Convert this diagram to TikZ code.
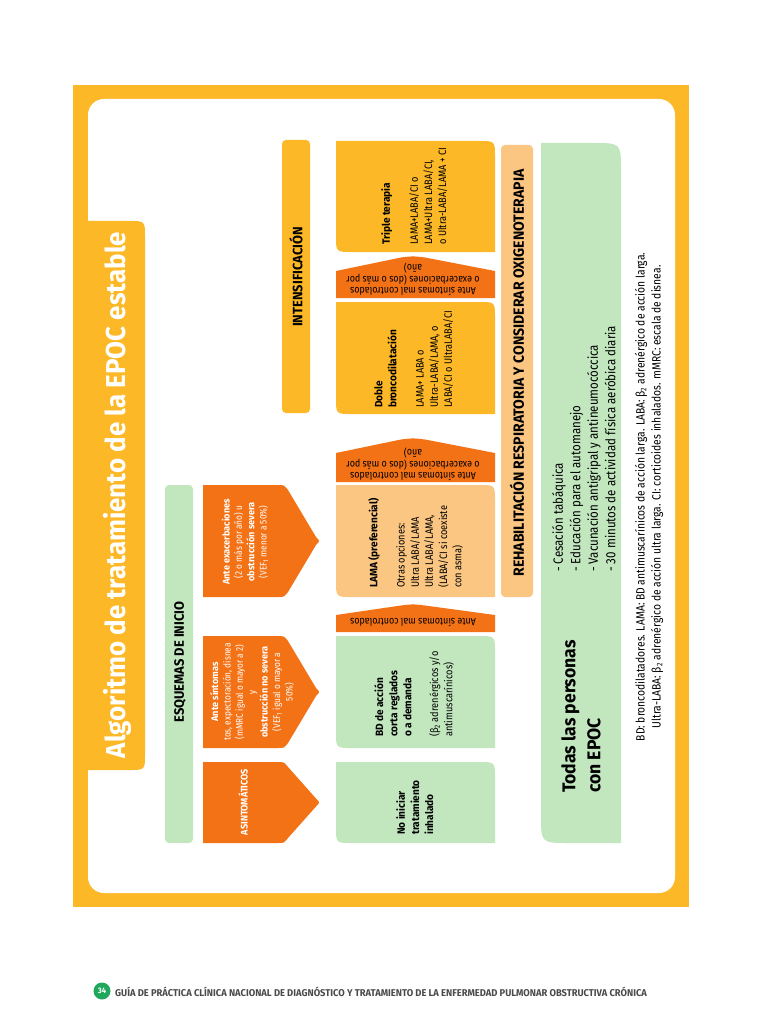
\documentclass[tikz,border=0pt]{standalone}
\usepackage{fontspec}
\setmainfont{Fira Sans}[FakeStretch=0.86,BoldFeatures={FakeStretch=0.95}]
\usetikzlibrary{positioning}
\definecolor{guideyellow}{HTML}{FDB827}
\definecolor{guideorange}{HTML}{F47216}
\definecolor{guidegreen}{HTML}{C2E7BF}
\definecolor{guidepeach}{HTML}{FBC682}
\definecolor{guidemint}{HTML}{1FA85C}
\definecolor{guidegrey}{HTML}{4A4A4A}
% box with two round corners (top right, bottom left)
\newcommand{\cornerbox}[6]{\fill[#1] (#2,#3) -- ({#4-#6},#3) .. controls (#4,#3) .. (#4,{#3+#6}) -- (#4,#5) -- ({#2+#6},#5) .. controls (#2,#5) .. (#2,{#5-#6}) -- cycle;}
% orange pentagon pointing right
\newcommand{\rightpent}[2]{\fill[guideorange] (203,#1) -- (278,#1) .. controls (284,#1) .. (288,{#1+5}) -- (316,{(#1+#2)/2-4}) .. controls (320,{(#1+#2)/2}) .. (316,{(#1+#2)/2+4}) -- (288,{#2-5}) .. controls (284,#2) .. (278,#2) -- (203,#2) -- cycle;}
% orange pentagon pointing up
\newcommand{\uppent}[3]{\fill[guideorange] (336,#3) -- (495,#3) -- (495,#2) -- (425,{#1+1.5}) .. controls (413,#1) .. (401,{#1+1.5}) -- (336,#2) -- cycle;}
\begin{document}
\begin{tikzpicture}[x=1pt,y=-1pt]
    \tikzstyle{bar}=[rounded corners=4pt]
    \tikzstyle{txt}=[inner sep=0pt, rotate=90, align=left, anchor=north west, font=\fontsize{10.7}{14.2}\selectfont]
    \tikzstyle{head}=[txt, font=\fontsize{10.6}{14.2}\selectfont\bfseries]
    \tikzstyle{pent}=[inner sep=0pt, rotate=90, align=center, text=white, font=\fontsize{9.6}{12.4}\selectfont]
    \tikzstyle{updown}=[inner sep=0pt, rotate=180, align=center, font=\fontsize{10.4}{11}\selectfont]
    \tikzstyle{barlabel}=[inner sep=0pt, rotate=90, font=\fontsize{13.6}{15}\selectfont\bfseries]

    \useasboundingbox (0,0) rectangle (768,1024);

    % frame
    \fill[guideyellow] (73,85) rectangle (689,907);
    \fill[white, rounded corners=16pt] (88,99) rectangle (675,893);
    \fill[guideyellow] (80,221) -- (129,221) .. controls (145,221) .. (145,237) -- (145,754) .. controls (145,770) .. (129,770) -- (80,770) -- cycle;
    \node[inner sep=0pt, rotate=90, text=white, font=\fontsize{27.3}{30}\selectfont\bfseries] (title) at (117,495) {Algoritmo de tratamiento de la EPOC estable};

    % header bars
    \fill[guidegreen, bar] (165,485) rectangle (193,843);
    \fill[guideyellow, bar] (282,140) rectangle (310,413);
    \fill[guidepeach, bar] (501,145) rectangle (533,597);
    \node[barlabel] (esquemas) at (180,662) {ESQUEMAS DE INICIO};
    \node[barlabel] (intens) at (296,277) {INTENSIFICACIÓN};
    \node[barlabel, font=\fontsize{14.8}{18}\selectfont\bfseries] (rehab) at (517,373) {REHABILITACIÓN RESPIRATORIA Y CONSIDERAR OXIGENOTERAPIA};

    % orange entry points
    \rightpent{485}{597}
    \rightpent{636}{748}
    \rightpent{762}{843}
    \node[pent] (exacer) at (245,542) {\textbf{Ante exacerbaciones}\\(2 o más por año) u\\\textbf{obstrucción severa}\\(VEF\textsubscript{1} menor a 50\%)};
    \node[pent] (sintomas) at (252,692) {\textbf{Ante síntomas}\\tos, expectoración, disnea\\(mMRC igual o mayor a 2)\\y\\\textbf{obstrucción no severa}\\(VEF\textsubscript{1} igual o mayor a\\50\%)};
    \node[pent] (asinto) at (243,802) {\textbf{ASINTOMÁTICOS}};

    % treatment boxes
    \cornerbox{guidegreen}{336}{762}{495}{843}{16}
    \cornerbox{guidegreen}{336}{636}{495}{748}{16}
    \cornerbox{guidepeach}{336}{485}{495}{597}{16}
    \cornerbox{guideyellow}{336}{302}{495}{414}{16}
    \cornerbox{guideyellow}{336}{141}{495}{252}{16}

    \node[head] (noinic) at (396,835) {No iniciar\\tratamiento\\inhalado};
    \node[head] (bdhead) at (374,737) {BD de acción\\corta reglados\\o a demanda};
    \node[txt] (bdbody) at (429,737) {(β\textsubscript{2} adrenérgicos y/o\\antimuscarínicos)};
    \node[head] (lamahead) at (368,588) {LAMA (preferencial)};
    \node[txt] (lamabody) at (396,588) {Otras opciones:\\Ultra LABA/LAMA\\Ultra LABA/LAMA,\\(LABA/CI si coexiste\\con asma)};
    \node[head] (doblehead) at (374,408) {Doble\\broncodilatación};
    \node[txt] (doblebody) at (416,408) {LAMA+ LABA o\\Ultra-LABA/LAMA, o\\LABA/CI o UltraLABA/CI};
    \node[head] (triplehead) at (381,245) {Triple terapia};
    \node[txt] (triplebody) at (409,245) {LAMA+LABA/CI o\\LAMA+Ultra LABA/CI,\\o Ultra-LABA/LAMA + CI};

    % up arrows
    \uppent{604}{615}{632}
    \uppent{438}{453}{482}
    \uppent{256}{271}{298}
    \node[updown] (up1) at (413,623) {Ante síntomas mal controlados};
    \node[updown] (up2) at (413,464) {Ante síntomas mal controlados\\o exacerbaciones (dos o más por\\año)};
    \node[updown] (up3) at (413,279) {Ante síntomas mal controlados\\o exacerbaciones (dos o más por\\año)};

    % all patients
    \cornerbox{guidegreen}{541}{143}{621}{843}{28}
    \node[txt, font=\fontsize{18.5}{25}\selectfont\bfseries] (todas) at (561,793) {Todas las personas\\con EPOC};
    \node[txt, font=\fontsize{13.4}{17.5}\selectfont] (medidas) at (552,572) {- Cesación tabáquica\\- Educación para el automanejo\\- Vacunación antigripal y antineumocóccica\\- 30 minutos de actividad física aeróbica diaria};

    % footnote
    \node[inner sep=0pt, rotate=90, align=center, font=\fontsize{12}{16}\selectfont] (nota) at (649,497) {BD: broncodilatadores. LAMA: BD antimuscarínicos de acción larga. LABA: β\textsubscript{2} adrenérgico de acción larga.\\Ultra-LABA: β\textsubscript{2} adrenérgico de acción ultra larga. CI: corticoides inhalados. mMRC: escala de disnea.};

    % page footer
    \node[circle, fill=guidemint, minimum size=17pt, inner sep=0pt, text=white, font=\fontsize{8}{9}\selectfont\bfseries] (page) at (102,991) {34};
    \node[inner sep=0pt, anchor=west, text=guidegrey, font=\fontsize{9.85}{10}\selectfont\bfseries] (guia) at (115,992) {GUÍA DE PRÁCTICA CLÍNICA NACIONAL DE DIAGNÓSTICO Y TRATAMIENTO DE LA ENFERMEDAD PULMONAR OBSTRUCTIVA CRÓNICA};
\end{tikzpicture}
\end{document}
